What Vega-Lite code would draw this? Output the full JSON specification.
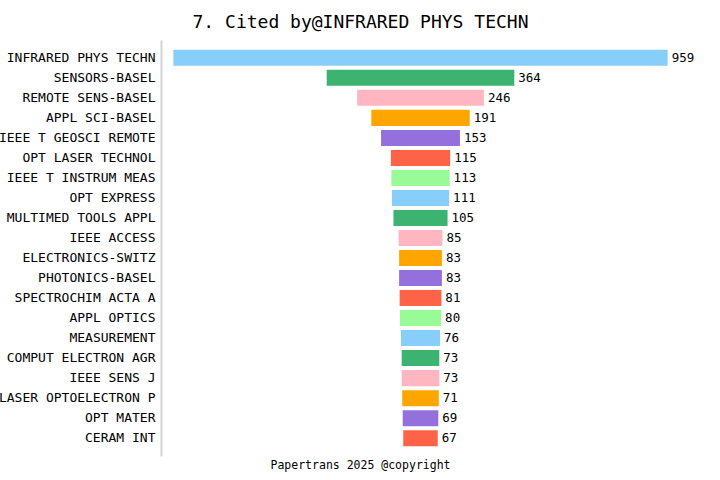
{
  "$schema": "https://vega.github.io/schema/vega-lite/v6.json",
  "description": "Cited by@INFRARED PHYS TECHN",
  "autosize": {"type": "none"},
  "padding": {"left": 161, "top": 40, "right": 40, "bottom": 24},
  "width": 519,
  "height": 416,
  "background": "white",
  "title": {
    "text": "7. Cited by@INFRARED PHYS TECHN",
    "font": "DejaVu Sans Mono",
    "fontSize": 18,
    "fontWeight": "normal",
    "color": "black",
    "anchor": "middle",
    "dx": -60,
    "offset": 8
  },
  "data": {
    "values": [
      {"journal": "INFRARED PHYS TECHN", "cites": 959},
      {"journal": "SENSORS-BASEL", "cites": 364},
      {"journal": "REMOTE SENS-BASEL", "cites": 246},
      {"journal": "APPL SCI-BASEL", "cites": 191},
      {"journal": "IEEE T GEOSCI REMOTE", "cites": 153},
      {"journal": "OPT LASER TECHNOL", "cites": 115},
      {"journal": "IEEE T INSTRUM MEAS", "cites": 113},
      {"journal": "OPT EXPRESS", "cites": 111},
      {"journal": "MULTIMED TOOLS APPL", "cites": 105},
      {"journal": "IEEE ACCESS", "cites": 85},
      {"journal": "ELECTRONICS-SWITZ", "cites": 83},
      {"journal": "PHOTONICS-BASEL", "cites": 83},
      {"journal": "SPECTROCHIM ACTA A", "cites": 81},
      {"journal": "APPL OPTICS", "cites": 80},
      {"journal": "MEASUREMENT", "cites": 76},
      {"journal": "COMPUT ELECTRON AGR", "cites": 73},
      {"journal": "IEEE SENS J", "cites": 73},
      {"journal": "LASER OPTOELECTRON P", "cites": 71},
      {"journal": "OPT MATER", "cites": 69},
      {"journal": "CERAM INT", "cites": 67}
    ]
  },
  "encoding": {
    "y": {
      "field": "journal",
      "type": "nominal",
      "sort": null,
      "scale": {"paddingInner": 0.2, "paddingOuter": 0.49},
      "axis": {
        "title": null,
        "ticks": false,
        "labelPadding": 6,
        "labelFont": "DejaVu Sans Mono",
        "labelFontSize": 13,
        "labelColor": "black",
        "labelLimit": 0,
        "domainColor": "#d4d4d4",
        "domainWidth": 2,
        "grid": false
      }
    },
    "x": {
      "field": "cites",
      "type": "quantitative",
      "stack": "center",
      "scale": {"domain": [-24, 983], "nice": false, "zero": false},
      "axis": {
        "labels": false,
        "ticks": false,
        "domain": false,
        "grid": false,
        "title": "Papertrans 2025 @copyright",
        "titleFont": "DejaVu Sans Mono",
        "titleFontSize": 11.5,
        "titleFontWeight": "normal",
        "titleColor": "black",
        "titleX": 199,
        "titleY": 9,
        "titleBaseline": "middle"
      }
    }
  },
  "layer": [
    {
      "mark": {"type": "bar"},
      "encoding": {
        "color": {
          "field": "journal",
          "type": "nominal",
          "sort": null,
          "legend": null,
          "scale": {
            "range": ["#87CEFA", "#3CB371", "#FFB6C1", "#FFA500", "#9370DB", "#FF6347", "#98FB98"]
          }
        }
      }
    },
    {
      "mark": {
        "type": "text",
        "align": "left",
        "baseline": "middle",
        "dx": 4,
        "font": "DejaVu Sans Mono",
        "fontSize": 12.5,
        "color": "black"
      },
      "encoding": {
        "text": {"field": "cites", "type": "quantitative"}
      }
    }
  ],
  "config": {
    "view": {"stroke": null}
  }
}
